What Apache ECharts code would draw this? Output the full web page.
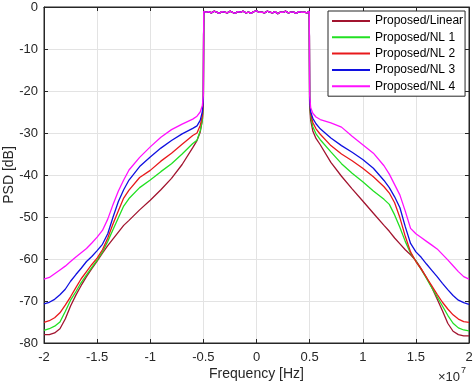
<!DOCTYPE html>
<html>
<head>
<meta charset="utf-8">
<script src="https://cdn.jsdelivr.net/npm/echarts@6/dist/echarts.min.js"></script>
<style>
html,body{margin:0;padding:0;background:#fff;}
#chart{width:474px;height:385px;}
</style>
</head>
<body>
<div id="chart"></div>
<script>
// Frequency in units of 1e7 Hz
const seriesNames = ['Proposed/Linear', 'Proposed/NL 1', 'Proposed/NL 2', 'Proposed/NL 3', 'Proposed/NL 4'];
const seriesColors = ['#a2142f', '#22e022', '#e8191b', '#1010e0', '#ff10ff'];

const xTicks = [-2, -1.5, -1, -0.5, 0, 0.5, 1, 1.5, 2];
const yTicks = [-80, -70, -60, -50, -40, -30, -20, -10, 0];

// left skirt (from -2 to the band edge)
const freqLeft = [-2.0, -1.95, -1.9, -1.85, -1.8, -1.75, -1.7, -1.65, -1.6, -1.55, -1.5, -1.45, -1.4, -1.35, -1.3, -1.25, -1.2, -1.1, -1.0, -0.9, -0.8, -0.7, -0.6, -0.56, -0.53, -0.51, -0.5];
const linearLeft = [-78, -78, -77.6, -76.6, -74.3, -71.2, -68.6, -66.3, -64.2, -62.3, -60.5, -58.6, -56.8, -55.2, -53.6, -52, -50.8, -48.3, -46, -43.5, -40.8, -37.5, -33.5, -31.8, -29.8, -27, -23.5];
const nl1Left = [-77, -76.6, -76, -75, -72.5, -69.8, -67.8, -65.6, -63.8, -62, -60.3, -58.3, -55.8, -53, -50.2, -47.4, -45.6, -43, -41.2, -39.2, -37.3, -35, -32.5, -31.7, -29.5, -27, -23];
const nl2Left = [-75.1, -74.7, -74, -72.8, -71, -69, -66.8, -64.7, -63, -61.3, -59.8, -57.8, -55, -51.6, -48.5, -45.5, -43.6, -40.6, -38.9, -36.7, -34.8, -32.7, -30.6, -30, -28.2, -26, -22.5];
const nl3Left = [-70.7, -70.3, -69.6, -68.5, -67.2, -65.3, -63.7, -62.2, -60.6, -59.4, -58, -56.5, -54, -50, -46.3, -43.5, -41.2, -38, -35.7, -33.6, -31.8, -30.2, -28.9, -28.3, -27, -25, -22];
const nl4Left = [-64.8, -64.4, -63.5, -62.6, -61.7, -60.6, -59.5, -58.5, -57.5, -56.2, -54.8, -53.2, -50.5, -47, -43.8, -41.2, -38.8, -35.8, -33.3, -31, -29.2, -27.9, -26.7, -26, -25, -23.5, -21];

// passband
const freqPass = [-0.497, -0.475, -0.45, -0.425, -0.4, -0.375, -0.35, -0.325, -0.3, -0.275, -0.25, -0.225, -0.2, -0.175, -0.15, -0.125, -0.1, -0.075, -0.05, -0.025, 0, 0.025, 0.05, 0.075, 0.1, 0.125, 0.15, 0.175, 0.2, 0.225, 0.25, 0.275, 0.3, 0.325, 0.35, 0.375, 0.4, 0.425, 0.45, 0.475, 0.497];
const passPSD = [-1.0, -1.3, -1.1, -1.4, -1.0, -1.2, -1.5, -1.1, -1.2, -1.4, -1.0, -1.3, -1.5, -1.1, -1.2, -1.0, -1.4, -1.2, -1.5, -1.1, -0.9, -1.3, -1.2, -1.4, -1.0, -1.2, -1.4, -1.1, -1.6, -1.2, -1.3, -1.0, -1.4, -1.2, -1.2, -1.5, -1.1, -1.3, -1.2, -1.4, -1.0];

// right skirt (from band edge to 2)
const freqRight = [0.5, 0.51, 0.53, 0.56, 0.6, 0.7, 0.8, 0.9, 1.0, 1.1, 1.2, 1.25, 1.3, 1.35, 1.4, 1.45, 1.5, 1.55, 1.6, 1.65, 1.7, 1.75, 1.8, 1.85, 1.9, 1.95, 2.0];
const linearRight = [-23.5, -27, -29.5, -31.3, -32.8, -37, -40.3, -43.3, -46.2, -49.1, -52, -53.4, -55, -56.4, -57.8, -59, -60.4, -62.3, -64.4, -66.8, -69.5, -72.3, -75.3, -77.2, -78, -78.3, -78.3];
const nl1Right = [-23, -26, -28.5, -30.2, -31.6, -34.5, -37.3, -39.6, -41.6, -43.8, -45.8, -47, -49.5, -52.5, -55.8, -58.6, -60.5, -62.5, -64.6, -66.8, -69, -71.2, -73.4, -75.3, -76.4, -76.9, -77.1];
const nl2Right = [-22.5, -25.5, -27.5, -29, -30.3, -33, -35, -36.6, -38.4, -40.4, -42.8, -44.3, -46.6, -50.2, -54.6, -58.3, -60.6, -62.4, -64.4, -66.4, -68.4, -70.3, -71.9, -73.3, -74.3, -74.9, -75.1];
const nl3Right = [-22, -25, -26.5, -27.8, -29, -31.2, -33, -34.6, -36.3, -38.4, -41.3, -43, -45.2, -47.8, -52.3, -56.3, -58.3, -59.6, -61.2, -62.7, -64.2, -65.8, -67.3, -68.7, -69.8, -70.4, -70.8];
const nl4Right = [-21, -24, -25.3, -26.2, -26.8, -27.6, -28.6, -30.8, -32.8, -34.8, -37.8, -39.8, -42.3, -44.8, -48.6, -52.7, -54, -54.9, -55.8, -56.7, -57.6, -58.9, -60.2, -61.6, -63, -64.2, -64.8];

const leftSets = [linearLeft, nl1Left, nl2Left, nl3Left, nl4Left];
const rightSets = [linearRight, nl1Right, nl2Right, nl3Right, nl4Right];

function buildSeriesData(left, right) {
  const d = [];
  freqLeft.forEach((f, i) => d.push([f, left[i]]));
  freqPass.forEach((f, i) => d.push([f, passPSD[i]]));
  freqRight.forEach((f, i) => d.push([f, right[i]]));
  return d;
}

const chart = echarts.init(document.getElementById('chart'), null, {renderer: 'canvas'});
const axisColor = '#262626';
const font = 'Liberation Sans, Arial, sans-serif';

const series = seriesNames.map((name, k) => ({
  name: name,
  type: 'line',
  data: buildSeriesData(leftSets[k], rightSets[k]),
  symbol: 'none',
  smooth: false,
  lineStyle: {width: 1.3, color: seriesColors[k]},
  itemStyle: {color: seriesColors[k]},
  xAxisIndex: 0,
  yAxisIndex: 0,
  animation: false
}));

const option = {
  animation: false,
  backgroundColor: '#fff',
  grid: {left: 44, right: 5, top: 7, bottom: 42, outerBoundsMode: 'none', containLabel: false,
    show: true, borderColor: axisColor, borderWidth: 1, backgroundColor: 'transparent'},
  legend: {
    data: seriesNames,
    orient: 'vertical',
    left: 328,
    top: 11,
    itemWidth: 38,
    itemHeight: 12,
    itemGap: 4.3,
    padding: [4, 2, 4, 3],
    backgroundColor: '#fff',
    borderColor: axisColor,
    borderWidth: 1,
    borderRadius: 0,
    itemStyle: {opacity: 0},
    textStyle: {fontSize: 12, color: '#000', fontFamily: font}
  },
  xAxis: [{
    type: 'value', min: -2, max: 2, interval: 0.5,
    position: 'bottom',
    name: 'Frequency [Hz]', nameLocation: 'middle', nameGap: 24, nameMoveOverlap: false,
    nameTextStyle: {fontSize: 14, color: axisColor, fontFamily: font},
    axisLine: {show: true, onZero: false, lineStyle: {color: axisColor}},
    axisTick: {show: true, inside: true, length: 4, lineStyle: {color: axisColor}},
    axisLabel: {fontSize: 13, color: axisColor, fontFamily: font, margin: 8,
      formatter: v => (xTicks.indexOf(v) >= 0 ? String(v) : '')},
    splitLine: {show: true, lineStyle: {color: '#e3e3e3', width: 1}}
  }, {
    type: 'value', min: -2, max: 2, interval: 0.5, position: 'top',
    axisLine: {show: true, onZero: false, lineStyle: {color: axisColor}},
    axisTick: {show: true, inside: true, length: 4, lineStyle: {color: axisColor}},
    axisLabel: {show: false}, splitLine: {show: false}
  }],
  yAxis: [{
    type: 'value', min: -80, max: 0, interval: 10,
    position: 'left',
    name: 'PSD [dB]', nameLocation: 'middle', nameGap: 28, nameMoveOverlap: false,
    nameTextStyle: {fontSize: 14, color: axisColor, fontFamily: font},
    axisLine: {show: true, onZero: false, lineStyle: {color: axisColor}},
    axisTick: {show: true, inside: true, length: 4, lineStyle: {color: axisColor}},
    axisLabel: {fontSize: 13, color: axisColor, fontFamily: font, margin: 6,
      formatter: v => (yTicks.indexOf(v) >= 0 ? String(v) : '')},
    splitLine: {show: true, lineStyle: {color: '#e3e3e3', width: 1}}
  }, {
    type: 'value', min: -80, max: 0, interval: 10, position: 'right',
    axisLine: {show: true, onZero: false, lineStyle: {color: axisColor}},
    axisTick: {show: true, inside: true, length: 4, lineStyle: {color: axisColor}},
    axisLabel: {show: false}, splitLine: {show: false}
  }],
  graphic: [
    {type: 'text', left: 438, top: 371, style: {text: '×10', fontSize: 13, fill: axisColor, fontFamily: font}},
    {type: 'text', left: 461, top: 366, style: {text: '7', fontSize: 9, fill: axisColor, fontFamily: font}}
  ],
  series: series
};
chart.setOption(option);
</script>
</body>
</html>
